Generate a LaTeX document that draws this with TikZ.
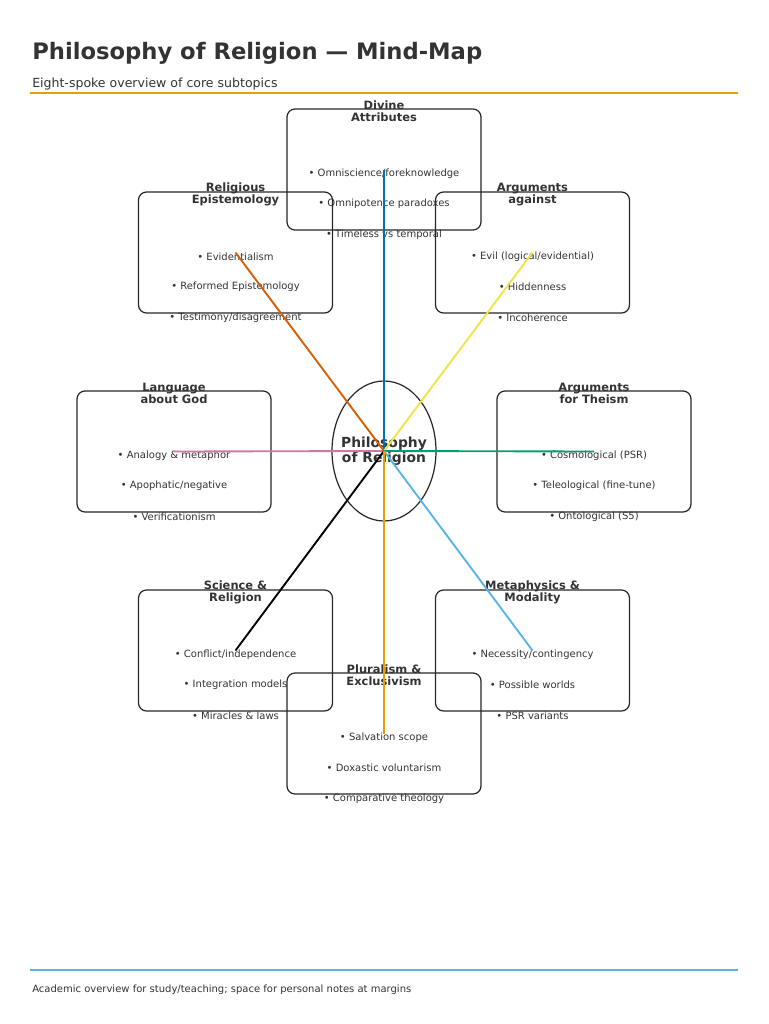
\documentclass[tikz,border=0pt]{standalone}
\usepackage{fontspec}
\setmainfont{DejaVu Sans}
\usetikzlibrary{shapes.geometric, positioning, calc}
\definecolor{inkgray}{HTML}{333333}
\definecolor{okblue}{HTML}{0072B2}
\definecolor{okverm}{HTML}{D55E00}
\definecolor{okyellow}{HTML}{F0E442}
\definecolor{oksky}{HTML}{56B4E9}
\definecolor{okgreen}{HTML}{009E73}
\definecolor{okpink}{HTML}{CC79A7}
\definecolor{okorange}{HTML}{E69F00}

\begin{document}
\begin{tikzpicture}[x=0.75pt,y=-0.75pt,
  topic/.style={draw=black!85,line width=0.9pt,rounded corners=6pt,
    minimum width=145.5pt,minimum height=90.75pt,inner sep=0pt},
  topictitle/.style={align=center,font=\bfseries\fontsize{8.6}{9}\selectfont,text=inkgray},
  item/.style={font=\fontsize{7.5}{8}\selectfont,text=inkgray},
  hubnode/.style={draw=black!85,line width=0.9pt,ellipse,minimum width=78pt,minimum height=105pt,inner sep=0pt},
  hubtext/.style={align=center,font=\bfseries\fontsize{10.4}{11.4}\selectfont,text=inkgray},
  spoke/.style={line width=1.4pt}]
  \useasboundingbox (0,0) rectangle (768,1024);
  % header
  \node[anchor=base west,inner sep=0pt,text=inkgray,font=\bfseries\fontsize{17}{18}\selectfont] (title) at (32,60)
    {Philosophy of Religion — Mind-Map};
  \node[anchor=base west,inner sep=0pt,text=inkgray,font=\fontsize{9.4}{10}\selectfont] (subtitle) at (32,87.5)
    {Eight-spoke overview of core subtopics};
  \draw[okorange,line width=1.5pt] (30,93.5) -- (738,93.5);
  % subtopic boxes
  \foreach \nm/\x/\y/\ttl/\ia/\ib/\ic in {
    divine/384/169.5/{Divine\\Attributes}/{Omniscience/foreknowledge}/{Omnipotence paradoxes}/{Timeless vs temporal},
    episte/235.5/252.5/{Religious\\Epistemology}/{Evidentialism}/{Reformed Epistemology}/{Testimony/disagreement},
    against/532.5/252.5/{Arguments\\against}/{Evil (logical/evidential)}/{Hiddenness}/{Incoherence},
    language/174/451.5/{Language\\about God}/{Analogy \& metaphor}/{Apophatic/negative}/{Verificationism},
    theism/594/451.5/{Arguments\\for Theism}/{Cosmological (PSR)}/{Teleological (fine-tune)}/{Ontological (S5)},
    science/235.5/650.5/{Science \&\\Religion}/{Conflict/independence}/{Integration models}/{Miracles \& laws},
    metaph/532.5/650.5/{Metaphysics \&\\Modality}/{Necessity/contingency}/{Possible worlds}/{PSR variants},
    plural/384/733.5/{Pluralism \&\\Exclusivism}/{Salvation scope}/{Doxastic voluntarism}/{Comparative theology}}
  {
    \node[topic] (\nm) at (\x,\y) {};
    \node[topictitle] at ($(\nm.north)+(0,3)$) {\ttl};
    \node[item] at (\x,{\y+4}) {• \ia};
    \node[item] at (\x,{\y+34.5}) {• \ib};
    \node[item] at (\x,{\y+65}) {• \ic};
  }
  % hub
  \node[hubnode] (hub) at (384,451) {};
  \node[hubtext] (hublabel) at (384,451.5) {Philosophy\\of Religion};
  % spokes
  \foreach \nm/\clr in {divine/okblue,episte/okverm,against/okyellow,language/okpink,
    theism/okgreen,science/black,metaph/oksky,plural/okorange}
    {\draw[spoke,\clr] (hub.center) -- (\nm.center);}
  % footer
  \draw[oksky,line width=1.5pt] (30,970) -- (738,970);
  \node[anchor=base west,inner sep=0pt,text=inkgray,font=\fontsize{7.5}{8}\selectfont] (footer) at (32,992.5)
    {Academic overview for study/teaching; space for personal notes at margins};
\end{tikzpicture}
\end{document}
